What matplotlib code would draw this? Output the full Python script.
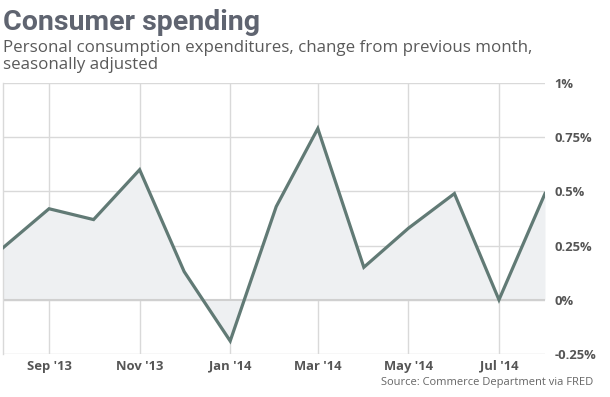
import matplotlib
matplotlib.use("Agg")
import matplotlib.pyplot as plt
import matplotlib.dates as mdates
import numpy as np
import pandas as pd

months = ["2013-08-01", "2013-09-01", "2013-10-01", "2013-11-01", "2013-12-01",
          "2014-01-01", "2014-02-01", "2014-03-01", "2014-04-01", "2014-05-01",
          "2014-06-01", "2014-07-01", "2014-08-01"]
values = [0.24, 0.42, 0.37, 0.60, 0.13, -0.19, 0.43, 0.79, 0.15, 0.33, 0.49, 0.0, 0.49]
tick_dates = ["2013-09-01", "2013-11-01", "2014-01-01", "2014-03-01", "2014-05-01", "2014-07-01"]
tick_labels = ["Sep '13", "Nov '13", "Jan '14", "Mar '14", "May '14", "Jul '14"]
y_ticks = [-0.25, 0, 0.25, 0.5, 0.75, 1.0]
y_labels = ["-0.25%", "0%", "0.25%", "0.5%", "0.75%", "1%"]

W, H = 610, 397
fig = plt.figure(figsize=(W / 100, H / 100), dpi=100)
left, right, top, bottom = 3, 545, 83, 354
ax = fig.add_axes([left / W, 1 - bottom / H, (right - left) / W, (bottom - top) / H])

x = pd.to_datetime(months)
xn = mdates.date2num(x)
y = np.array(values)

ax.fill_between(xn, y, 0, color="#eef0f2", linewidth=0, interpolate=True, zorder=1)
ax.plot(xn, y, color="#617a75", linewidth=2.3, solid_joinstyle="miter", zorder=3)

ax.set_xlim(xn[0], xn[-1])
ax.set_ylim(-0.25, 1.0)

ax.set_xticks(mdates.date2num(pd.to_datetime(tick_dates)))
ax.set_xticklabels(tick_labels)
ax.set_yticks(y_ticks)
ax.set_yticklabels(y_labels)
ax.yaxis.tick_right()

for lab in ax.get_xticklabels() + ax.get_yticklabels():
    lab.set_fontfamily("Open Sans")
    lab.set_fontweight("bold")
    lab.set_fontsize(9.4)
    lab.set_color("#555555")
ax.tick_params(axis="both", length=0)
ax.tick_params(axis="x", pad=4)
ax.tick_params(axis="y", pad=7)

ax.grid(True, color="#d9d9d9", linewidth=1.0, zorder=0)
ax.set_axisbelow(True)
for s in ["top", "right", "bottom"]:
    ax.spines[s].set_visible(False)
ax.spines["left"].set_color("#d9d9d9")
ax.spines["left"].set_linewidth(1.0)
ax.axhline(0, color="#d0d0d0", linewidth=1.5, zorder=2)

fig.text(3 / W, 1 - 9 / H, "Consumer spending", fontfamily="Roboto", fontweight="bold",
         fontsize=20.5, color="#5f6470", va="top", ha="left")
fig.text(3 / W, 1 - 40 / H, "Personal consumption expenditures, change from previous month,\nseasonally adjusted",
         fontfamily="Open Sans", fontsize=12.2, color="#5a5a5a", va="top", ha="left", linespacing=1.05)
fig.text(593 / W, 1 - 382 / H, "Source: Commerce Department via FRED", fontfamily="Open Sans",
         fontsize=8.0, color="#666666", va="center", ha="right")

fig.savefig("out.png", dpi=100)
